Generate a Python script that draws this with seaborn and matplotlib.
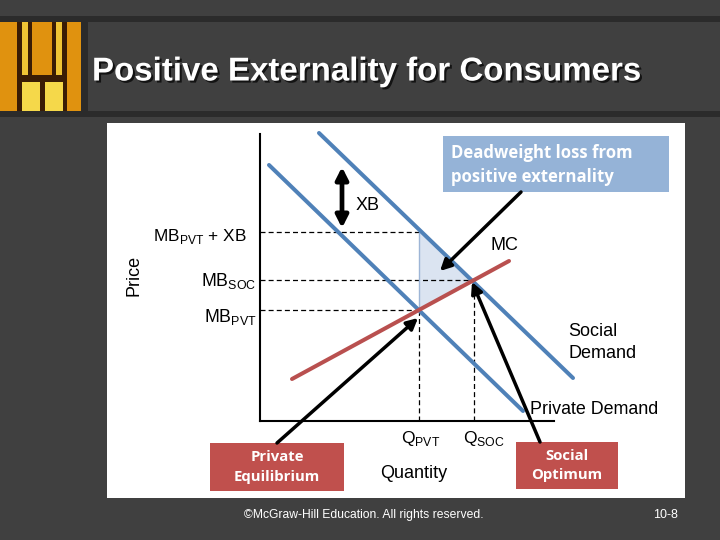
import matplotlib
matplotlib.use("Agg")
import matplotlib.pyplot as plt
import matplotlib.patheffects as pe
from matplotlib.patches import Rectangle, Polygon
import pandas as pd
import seaborn as sns

# curves, in quantity / price units of the diagram
social_q = [59, 313]
social_p = [288, 43]
private_q = [9, 263]
private_p = [256, 10]
mc_q = [32, 249]
mc_p = [42, 160]

q_pvt = 159
q_soc = 214
mb_xb = 189
mb_soc = 141
mb_pvt = 111

sns.set_theme(style="white")
plt.rcParams["font.family"] = ["Liberation Sans", "DejaVu Sans"]
plt.rcParams["mathtext.fontset"] = "custom"
plt.rcParams["mathtext.rm"] = "Liberation Sans"

W, H = 720, 540
BG = "#404040"
BLUE = "#4f81b8"
RED = "#b9504f"

fig = plt.figure(figsize=(7.2, 5.4), dpi=100, facecolor=BG)

# slide background, everything here is in pixels
bg = fig.add_axes([0, 0, 1, 1])
bg.set_xlim(0, W)
bg.set_ylim(H, 0)
bg.axis("off")


def box(x0, y0, x1, y1, color, ax=bg, z=1):
    ax.add_patch(Rectangle((x0, y0), x1 - x0, y1 - y0, facecolor=color, edgecolor="none", zorder=z))


box(0, 16, 720, 22, "#2b2b2b")
box(0, 111, 720, 117, "#2b2b2b")
box(81, 22, 88, 111, "#2b2b2b")
box(0, 22, 81, 111, "#3a1c05")
box(0, 22, 17, 111, "#e0920f", z=2)
box(67, 22, 81, 111, "#e0920f", z=2)
box(32, 22, 52, 75, "#e0920f", z=2)
box(22, 22, 28, 75, "#f0c435", z=2)
box(56, 22, 62, 75, "#f0c435", z=2)
box(22, 82, 40, 111, "#f5d84a", z=2)
box(45, 82, 63, 111, "#f5d84a", z=2)
box(107, 123, 685, 498, "white")

bg.text(92, 72, "Positive Externality for Consumers", color="white", fontsize=23.8, fontweight="bold",
        va="center", ha="left",
        path_effects=[pe.withSimplePatchShadow(offset=(1.5, -1.5), shadow_rgbFace="black", alpha=0.7)])
bg.text(364, 515, "©McGraw-Hill Education. All rights reserved.", color="white", fontsize=8.75, ha="center", va="center")
bg.text(665, 515, "10-8", color="white", fontsize=9, ha="center", va="center")

box(443, 136, 669, 192, "#95b3d7")
box(210, 443, 344, 491, "#c0504d")
box(516, 442, 618, 489, "#c0504d")

label = dict(family=["Open Sans", "DejaVu Sans"], fontweight="bold", color="white")
bg.text(451, 153, "Deadweight loss from", fontsize=12.1, va="center", **label)
bg.text(451, 177, "positive externality", fontsize=12.1, va="center", **label)
bg.text(277, 457, "Private", fontsize=10.7, ha="center", va="center", **label)
bg.text(277, 477, "Equilibrium", fontsize=10.7, ha="center", va="center", **label)
bg.text(567, 456, "Social", fontsize=10.7, ha="center", va="center", **label)
bg.text(567, 475, "Optimum", fontsize=10.7, ha="center", va="center", **label)

# the diagram itself
ax = fig.add_axes([260 / W, (H - 421) / H, 294 / W, 287 / H])
ax.patch.set_alpha(0)
ax.set_xlim(0, 294)
ax.set_ylim(0, 287)
ax.set_xticks([])
ax.set_yticks([])
sns.despine(ax=ax)
for side in ["left", "bottom"]:
    ax.spines[side].set_color("black")
    ax.spines[side].set_linewidth(1.5)

ax.add_patch(Polygon([(q_pvt, mb_xb), (q_pvt, mb_pvt), (q_soc - 2, mb_soc)], closed=True,
                     facecolor="#dbe4f1", edgecolor="none", zorder=1))

dash = dict(color="black", lw=0.9, ls=(0, (4, 2.5)), zorder=2, clip_on=False)
ax.plot([0, q_pvt], [mb_xb, mb_xb], **dash)
ax.plot([0, q_soc], [mb_soc, mb_soc], **dash)
ax.plot([0, q_pvt], [mb_pvt, mb_pvt], **dash)
ax.plot([q_pvt, q_pvt], [0, mb_pvt], **dash)
ax.plot([q_soc, q_soc], [0, mb_soc], **dash)
ax.plot([q_pvt, q_pvt], [mb_pvt, mb_xb], color="#9db5d6", lw=1, zorder=2)

curves = [(social_q, social_p, BLUE), (private_q, private_p, BLUE), (mc_q, mc_p, RED)]
for qs, ps, col in curves:
    df = pd.DataFrame({"q": qs, "p": ps})
    sns.lineplot(data=df, x="q", y="p", ax=ax, color=col, lw=2.9, solid_capstyle="round",
                 clip_on=False, zorder=3, estimator=None, sort=False)
ax.set_xlabel("")
ax.set_ylabel("")


def pointer(start, end, style="-|>", size=12, lw=2.5):
    ax.annotate("", xy=end, xytext=start, annotation_clip=False, zorder=5,
                arrowprops=dict(arrowstyle=f"{style},head_width=0.28,head_length=0.55", color="black",
                                lw=lw, shrinkA=0, shrinkB=0, mutation_scale=size))


pointer((82, 193), (82, 254), "<|-|>", size=13, lw=3.4)
pointer((261, 229), (180, 150))
pointer((17, -22), (158, 103))
pointer((280, -21), (212, 139))

txt = dict(color="black", va="center", annotation_clip=False)
ax.annotate("XB", xy=(356, 205), xycoords=bg.transData, fontsize=13, **txt)
ax.annotate("MC", xy=(491, 245), xycoords=bg.transData, fontsize=13, **txt)
ax.annotate(r"MB$_{\mathrm{PVT}}$ + XB", xy=(153, 236), xycoords=bg.transData, fontsize=12.4, **txt)
ax.annotate(r"MB$_{\mathrm{SOC}}$", xy=(201, 281), xycoords=bg.transData, fontsize=12.8, **txt)
ax.annotate(r"MB$_{\mathrm{PVT}}$", xy=(204, 317), xycoords=bg.transData, fontsize=12.8, **txt)
ax.annotate("Social", xy=(568, 332), xycoords=bg.transData, fontsize=13, **txt)
ax.annotate("Demand", xy=(568, 353), xycoords=bg.transData, fontsize=13, **txt)
ax.annotate("Private Demand", xy=(530, 409), xycoords=bg.transData, fontsize=12.9, **txt)
ax.annotate(r"Q$_{\mathrm{PVT}}$", xy=(401, 438), xycoords=bg.transData, fontsize=12.6, **txt)
ax.annotate(r"Q$_{\mathrm{SOC}}$", xy=(463, 438), xycoords=bg.transData, fontsize=12.6, **txt)
ax.annotate("Quantity", xy=(380, 473), xycoords=bg.transData, fontsize=13, **txt)
ax.annotate("Price", xy=(134, 275), xycoords=bg.transData, fontsize=13, rotation=90, ha="center", **txt)

fig.savefig("out.png", dpi=100, facecolor=BG)
